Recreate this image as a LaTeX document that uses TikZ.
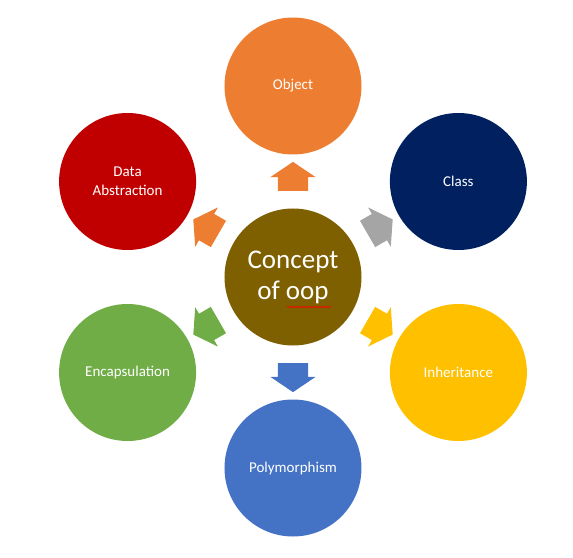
\documentclass[tikz,border=0pt]{standalone}
\usepackage{fontspec}
\setmainfont{Carlito}
\usepackage{xcolor}
\usetikzlibrary{calc,shapes.arrows,decorations.pathmorphing}
\definecolor{cenbrown}{HTML}{7F6000}
\definecolor{objorange}{HTML}{ED7D31}
\definecolor{clsnavy}{HTML}{002060}
\definecolor{inhyellow}{HTML}{FFC000}
\definecolor{polyblue}{HTML}{4472C4}
\definecolor{encgreen}{HTML}{70AD47}
\definecolor{absred}{HTML}{C00000}
\definecolor{arrgray}{HTML}{A5A5A5}

\begin{document}
\begin{tikzpicture}[x=1pt,y=1pt,
  topic/.style={circle,minimum size=137pt,inner sep=0pt,text=white,align=center,
    font=\fontsize{15}{19}\selectfont},
  blk/.style={single arrow,minimum height=29pt,inner xsep=0pt,inner ysep=15pt,
    single arrow head extend=7.5pt,single arrow tip angle=112}]
\useasboundingbox (-293,-280) rectangle (280,277);
% centre and the six topics
\node[topic,fill=cenbrown,font=\fontsize{27}{31}\selectfont] (cen) at (0,0) {Concept\\of oop};
\node[topic,fill=objorange] (obj) at (90:191) {Object};
\node[topic,fill=clsnavy] (cls) at (30:191) {Class};
\node[topic,fill=inhyellow] (inh) at (-30:191) {Inheritance};
\node[topic,fill=polyblue] (poly) at (-90:191) {Polymorphism};
\node[topic,fill=encgreen] (enc) at (-150:191) {Encapsulation};
\node[topic,fill=absred] (abs) at (150:191) {Data\\Abstraction};
% block arrows half way
\node[blk,fill=objorange,rotate=90] (aobj) at ($(cen)!0.5!(obj)$) {};
\node[blk,fill=arrgray,rotate=30] (acls) at ($(cen)!0.5!(cls)$) {};
\node[blk,fill=inhyellow,rotate=-30] (ainh) at ($(cen)!0.5!(inh)$) {};
\node[blk,fill=polyblue,rotate=-90] (apoly) at ($(cen)!0.5!(poly)$) {};
\node[blk,fill=encgreen,rotate=-150] (aenc) at ($(cen)!0.5!(enc)$) {};
\node[blk,fill=objorange,rotate=150] (aabs) at ($(cen)!0.5!(abs)$) {};
% spell-check squiggle
\draw[red,line width=0.6pt,decorate,decoration={snake,amplitude=0.8pt,segment length=3pt}]
  ($(cen)+(-6,-30)$) -- ($(cen)+(38,-30)$);
\end{tikzpicture}
\end{document}
